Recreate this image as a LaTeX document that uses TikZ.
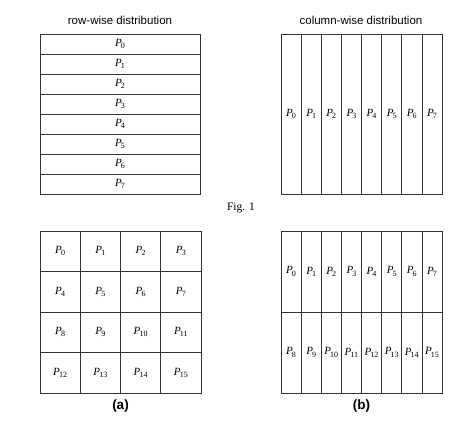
\documentclass[tikz,border=0pt]{standalone}
\usepackage{fontspec}
\setmainfont{Liberation Serif}
\newfontfamily\hv{Liberation Sans}
\newcommand\proc[1]{\textit{P}\kern-0.08em\raisebox{-0.2em}{\fontsize{8}{9}\selectfont #1}}
\tikzset{
  cell/.style={draw=black!80, line width=0.6pt, inner sep=0pt, font=\fontsize{11}{12}\selectfont},
  title/.style={font=\hv\fontsize{11.5}{13}\selectfont, inner sep=0pt},
  sublabel/.style={font=\hv\bfseries\fontsize{13.5}{15}\selectfont, inner sep=0pt},
  figlabel/.style={font=\fontsize{11.5}{13}\selectfont, inner sep=0pt}
}
\begin{document}
\begin{tikzpicture}[x=1pt,y=-1pt]
\useasboundingbox (0,0) rectangle (474,424);
% titles
\node[title] (t1) at (120,20) {row-wise distribution};
\node[title] (t2) at (361,20) {column-wise distribution};
\node[figlabel] (fig) at (241,208) {Fig. 1};
\node[sublabel] (la) at (120.5,406) {(a)};
\node[sublabel] (lb) at (361.5,406) {(b)};
% row-wise
\foreach \i in {0,...,7}{
  \node[cell, minimum width=160pt, minimum height=20pt] (r\i) at (120,{44+20*\i}) {\proc{\i}};
}
% column-wise
\foreach \i in {0,...,7}{
  \node[cell, minimum width=20.125pt, minimum height=160pt] (c\i) at ({281+10.0625+20.125*\i},114) {\proc{\i}};
}
% 2D block
\foreach \r in {0,...,3}{
  \foreach \c in {0,...,3}{
    \pgfmathtruncatemacro{\k}{4*\r+\c}
    \node[cell, minimum width=40.25pt, minimum height=40.5pt] (a\k) at ({40+20.125+40.25*\c},{231+20.25+40.5*\r}) {\proc{\k}};
  }
}
% block-cyclic columns
\foreach \r in {0,1}{
  \foreach \c in {0,...,7}{
    \pgfmathtruncatemacro{\k}{8*\r+\c}
    \node[cell, minimum width=20.125pt, minimum height=81pt] (b\k) at ({281+10.0625+20.125*\c},{231+40.5+81*\r}) {\proc{\k}};
  }
}
\end{tikzpicture}
\end{document}
